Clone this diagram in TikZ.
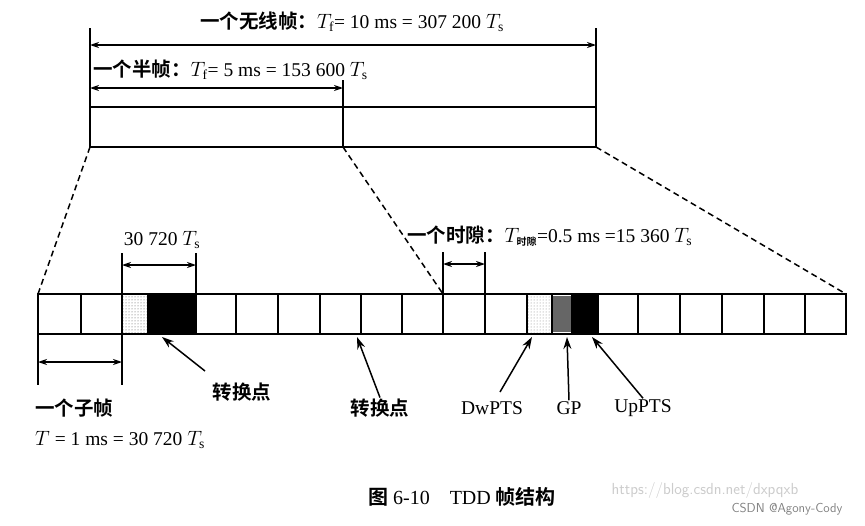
\documentclass[tikz,border=0pt]{standalone}
\usepackage{fontspec}
\setmainfont{Liberation Serif}
\newfontfamily\cjk{Noto Sans CJK SC Bold}
\usetikzlibrary{patterns,arrows.meta}
\begin{document}
\begin{tikzpicture}[x=1pt,y=-1pt,
  lab/.style={font=\fontsize{19.5}{21}\selectfont,inner sep=1pt},
  dim/.style={{Stealth[length=9pt,width=6pt]}-{Stealth[length=9pt,width=6pt]},line width=1.4pt},
  tick/.style={line width=1.4pt},
  pt/.style={-{Stealth[length=12pt,width=8pt]},line width=1.5pt},
  dsh/.style={line width=1.5pt,dash pattern=on 6pt off 4pt}]
\useasboundingbox (0,0) rectangle (865,525);
% top frame
\draw[line width=1.4pt] (90,107) rectangle (596,147);
\draw[line width=1.4pt] (343,107) -- (343,147);
\draw[tick] (90,28) -- (90,147);
\draw[tick] (596,28) -- (596,147);
\draw[tick] (343,80) -- (343,107);
\coordinate (fL) at (90,45); \coordinate (fR) at (596,45);
\draw[dim] (fL) -- (fR);
\coordinate (hL) at (90,88); \coordinate (hR) at (343,88);
\draw[dim] (hL) -- (hR);
\node[lab] (t1) at (352,22) {{\cjk 一个无线帧：}$T_{\mathrm f}$= 10 ms = 307 200 $T_{\mathrm s}$};
\node[lab,anchor=west] (t2) at (92,70) {{\cjk 一个半帧：}$T_{\mathrm f}$= 5 ms = 153 600 $T_{\mathrm s}$};
% slots
\fill[pattern=dots,pattern color=black!70] (122,294) rectangle (147,334);
\fill[black] (147,294) rectangle (196,334);
\fill[pattern=dots,pattern color=black!50] (527,294) rectangle (552,334);
\fill[black!60] (553,296) rectangle (572,332);
\fill[black] (572,294) rectangle (598,334);
\draw[line width=1.4pt] (38,294) rectangle (846,334);
\foreach \x in {81,122,196,236,278,320,361,402,443,485,527,552,572,598,638,680,722,764,805}
  \draw[line width=1.4pt] (\x,294) -- (\x,334);
% dashed
\draw[dsh] (90,147) -- (38,294);
\draw[dsh] (343,147) -- (443,294);
\draw[dsh] (596,147) -- (846,294);
% dims
\draw[tick] (122,253) -- (122,294); \draw[tick] (196,253) -- (196,294);
\draw[dim] (122,265) -- (196,265);
\node[lab] (d1) at (162,240) {30 720 $T_{\mathrm s}$};
\draw[tick] (443,252) -- (443,294); \draw[tick] (485,252) -- (485,294);
\draw[dim] (443,264) -- (485,264);
\node[lab,anchor=west] (d2) at (406,236) {{\cjk 一个时隙：}$T_{\mbox{\cjk\fontsize{10}{11}\selectfont 时隙}}$=0.5 ms =15 360 $T_{\mathrm s}$};
\draw[tick] (38,334) -- (38,385); \draw[tick] (122,334) -- (122,385);
\draw[dim] (38,362) -- (122,362);
\node[lab,anchor=west] (s1) at (34,408) {\cjk 一个子帧};
\node[lab,anchor=west] (s2) at (34,440) {$T$ = 1 ms = 30 720 $T_{\mathrm s}$};
% pointers
\node[lab] (z1) at (242,392) {\cjk 转换点};
\node[lab] (z2) at (380,408) {\cjk 转换点};
\node[lab] (dw) at (492,408) {DwPTS};
\node[lab] (gp) at (569,408) {GP};
\node[lab] (up) at (643,408) {UpPTS};
\coordinate (a1) at (162,337); \coordinate (a2) at (357,337);
\coordinate (a3) at (532,337); \coordinate (a4) at (567,337); \coordinate (a5) at (592,337);
\draw[pt] (205,371) -- (a1);
\draw[pt] (z2.north) -- (a2);
\draw[pt] (500,392) -- (a3);
\draw[pt] (gp.north) -- (a4);
\draw[pt] (up.north) -- (a5);
\node[font=\fontsize{20}{22}\selectfont] (cap) at (462,497) {{\cjk 图} 6-10\quad TDD {\cjk 帧结构}};
\node[text=black!20,font=\fontsize{16}{18}\selectfont\sffamily] (wm) at (705,490) {https://blog.csdn.net/dxpqxb};
\node[text=black!50,font=\fontsize{13}{15}\selectfont\sffamily] (wm2) at (787,509) {CSDN @Agony-Cody};
\end{tikzpicture}
\end{document}
